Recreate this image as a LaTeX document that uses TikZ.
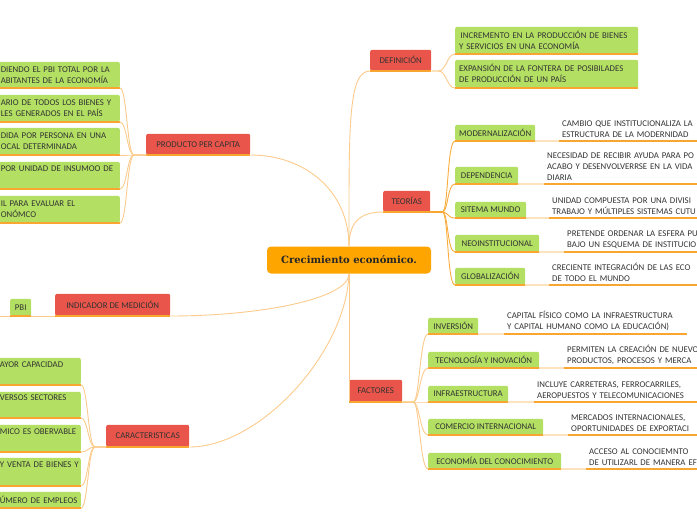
\documentclass[tikz,border=0pt]{standalone}
\usepackage{fontspec}
\setmainfont{Carlito}
\newfontfamily\titlefont{DejaVu Serif}
\definecolor{ink}{HTML}{333333}
\definecolor{nodered}{HTML}{E9554A}
\definecolor{nodegreen}{HTML}{B3E063}
\definecolor{mainorange}{HTML}{FFA500}
\definecolor{ulcol}{HTML}{F8A631}
\definecolor{faintcol}{HTML}{FCE3BE}
\definecolor{conncol}{HTML}{FCCB8C}
\definecolor{conndark}{HTML}{F9AC3C}
\begin{document}
\begin{tikzpicture}[x=1pt,y=-1pt,
  txt/.style={text=ink, font=\fontsize{8.8}{11}\selectfont},
  redbox/.style={txt, fill=nodered, rounded corners=2, inner sep=0, anchor=south west},
  lbl/.style={txt, fill=nodegreen, rounded corners=2, inner sep=0, anchor=south west},
  gbox/.style={txt, fill=nodegreen, rounded corners=2, inner xsep=4, inner ysep=0, align=left, anchor=south west},
  lbox/.style={txt, fill=nodegreen, rounded corners=2, inner xsep=2, inner ysep=0, align=left, anchor=south east, text width=117},
  desc/.style={txt, inner xsep=3, inner ysep=3.5, align=left, anchor=south west, text width=200},
  uline/.style={draw=ulcol, line width=1.8},
  faint/.style={draw=faintcol, line width=1.8},
  conn/.style={draw=conncol, line width=0.9},
  connd/.style={draw=conndark, line width=0.9}
]
\useasboundingbox (0,0) rectangle (697,520);
\clip (0,0) rectangle (697,520);

% central node
\node[fill=mainorange, rounded corners=4, minimum width=164, minimum height=27, inner sep=0,
      text=black!85, font=\titlefont\bfseries\fontsize{10}{12}\selectfont] (c) at (349,260) {Crecimiento económico.};

% main branches
\node[redbox, minimum width=61, minimum height=21] (def) at (370,71) {DEFINICIÓN};
\node[redbox, minimum width=47, minimum height=21] (teo) at (383,212) {TEORÍAS};
\node[redbox, minimum width=53, minimum height=22] (fac) at (349,402) {FACTORES};
\node[redbox, minimum width=104, minimum height=21] (ppc) at (146,155) {PRODUCTO PER CAPITA};
\node[redbox, minimum width=115, minimum height=22] (ind) at (55,316) {INDICADOR DE MEDICIÓN};
\node[redbox, minimum width=83, minimum height=22] (car) at (106,447) {CARACTERISTICAS};

% definicion children
\node[gbox, minimum width=183, minimum height=27, text width=175] (d1) at (455,54)
  {\,INCREMENTO EN LA PRODUCCIÓN DE BIENES\\Y SERVICIOS EN UNA ECONOMÍA};
\node[gbox, minimum width=183, minimum height=28, text width=175] (d2) at (455,88)
  {EXPANSIÓN DE LA FONTERA DE POSIBILADES\\DE PRODUCCIÓN DE UN PAÍS};

% teorias children
\node[lbl, minimum width=80, minimum height=16] (t1) at (455,141) {MODERNALIZACIÓN};
\node[lbl, minimum width=63, minimum height=17] (t2) at (455,184) {DEPENDENCIA};
\node[lbl, minimum width=71, minimum height=16] (t3) at (455,218) {SITEMA MUNDO};
\node[lbl, minimum width=84, minimum height=17] (t4) at (455,252) {NEOINSTITUCIONAL};
\node[lbl, minimum width=70, minimum height=17] (t5) at (455,285) {GLOBALIZACIÓN};

\node[desc] (e1) at (559,141) {CAMBIO QUE INSTITUCIONALIZA LA\\ESTRUCTURA DE LA MODERNIDAD};
\node[desc] (e2) at (544,184) {NECESIDAD DE RECIBIR AYUDA PARA PO\\ACABO Y DESENVOLVERRSE EN LA VIDA\\DIARIA};
\node[desc] (e3) at (549,218) {UNIDAD COMPUESTA POR UNA DIVISI\\TRABAJO Y MÚLTIPLES SISTEMAS CUTU};
\node[desc] (e4) at (564,252) {PRETENDE ORDENAR LA ESFERA PU\\BAJO UN ESQUEMA DE INSTITUCIO};
\node[desc] (e5) at (549,285) {CRECIENTE INTEGRACIÓN DE LAS ECO\\DE TODO EL MUNDO};

% factores children
\node[lbl, minimum width=50, minimum height=16] (g1) at (428,334) {INVERSIÓN};
\node[lbl, minimum width=111, minimum height=16] (g2) at (428,368) {TECNOLOGÍA Y INOVACIÓN};
\node[lbl, minimum width=80, minimum height=16] (g3) at (428,402) {INFRAESTRUCTURA};
\node[lbl, minimum width=115, minimum height=16] (g4) at (428,435) {COMERCIO INTERNACIONAL};
\node[lbl, minimum width=133, minimum height=16] (g5) at (428,469) {ECONOMÍA DEL CONOCIMIENTO};

\node[desc, text width=177] (f1) at (504,334) {CAPITAL FÍSICO COMO LA INFRAESTRUCTURA\\Y CAPITAL HUMANO COMO LA EDUCACIÓN)};
\node[desc] (f2) at (564,368) {PERMITEN LA CREACIÓN DE NUEVO\\PRODUCTOS, PROCESOS Y MERCA};
\node[desc] (f3) at (534,402) {INCLUYE CARRETERAS, FERROCARRILES,\\AEROPUESTOS Y TELECOMUNICACIONES};
\node[desc] (f4) at (568,435) {MERCADOS INTERNACIONALES,\\OPORTUNIDADES DE EXPORTACI};
\node[desc] (f5) at (586,469) {ACCESO AL CONOCIEMNTO\\DE UTILIZARL DE MANERA EF};

% producto per capita children
\node[lbox, minimum height=26] (p1) at (120,88) {DIENDO EL PBI TOTAL POR LA\\ABITANTES DE LA ECONOMÍA};
\node[lbox, minimum height=27] (p2) at (120,122) {ARIO DE TODOS LOS BIENES Y\\LES GENERADOS EN EL PAÍS};
\node[lbox, minimum height=27] (p3) at (120,155) {DIDA POR PERSONA EN UNA\\OCAL DETERMINADA};
\node[lbox, minimum height=27] (p4) at (120,189) {POR UNIDAD DE INSUMOO DE\\\strut};
\node[lbox, minimum height=27] (p5) at (120,223) {IL PARA EVALUAR EL\\ONÓMCO};

% indicador child
\node[lbl, minimum width=21, minimum height=17] (pbi) at (10,316) {PBI};
\coordinate (pbiend) at (-5,316);

% caracteristicas children
\node[lbox, minimum height=27, text width=79] (c1) at (81,385) {AYOR CAPACIDAD\\\strut};
\node[lbox, minimum height=26, text width=79] (c2) at (81,418) {VERSOS SECTORES\\\strut};
\node[lbox, minimum height=27, text width=79] (c3) at (81,452) {MICO ES OBERVABLE\\\strut};
\node[lbox, minimum height=28, text width=79] (c4) at (81,486) {Y VENTA DE BIENES Y\\\strut};
\node[lbox, minimum height=16, text width=79] (c5) at (81,508) {ÚMERO DE EMPLEOS};

% main connectors
\draw[conn] (c.north) .. controls +(0,-120) and +(-22,0) .. (def.south west);
\draw[conn] (c.north) .. controls +(0,-25) and +(-22,0) .. (teo.south west);
\draw[conn] (c.north) .. controls +(0,-55) and +(55,0) .. (ppc.south east);
\draw[conn] (c.south) .. controls +(0,25) and +(90,0) .. (ind.south east);
\draw[conn] (c.south) .. controls +(-3,80) and +(70,0) .. (car.south east);
\draw[conn] (c.south) -- (fac.south west);

% definicion hub
\draw[uline] (def.south west) -- (def.south east);
\foreach \n in {d1,d2}
  \draw[conn] (def.south east) -- ++(7,0) .. controls +(8,0) and +(-8,0) .. (\n.south west);
\foreach \n in {d1,d2} \draw[uline] (\n.south west) -- (\n.south east);

% teorias hub
\draw[uline] (teo.south west) -- (teo.south east) -- ++(12,0);
\foreach \n in {t1,t2,t3,t4,t5}
  \draw[connd] (teo.south east) ++(12,0) .. controls +(6,0) and +(-8,0) .. (\n.south west);
\foreach \a/\b in {t1/e1,t2/e2,t3/e3,t4/e4,t5/e5}{
  \draw[faint] (\a.south east) -- (\b.south west);
  \draw[uline] (\a.south west) -- (\a.south east);
  \draw[uline] (\b.south west) -- (\b.south east);
}

% factores hub
\draw[uline] (fac.south west) -- (fac.south east);
\foreach \n in {g1,g2,g3,g4,g5}
  \draw[conn] (fac.south east) -- ++(11,0) .. controls +(6,0) and +(-8,0) .. (\n.south west);
\foreach \a/\b in {g1/f1,g2/f2,g3/f3,g4/f4,g5/f5}{
  \draw[faint] (\a.south east) -- (\b.south west);
  \draw[uline] (\a.south west) -- (\a.south east);
  \draw[uline] (\b.south west) -- (\b.south east);
}

% producto per capita hub
\draw[uline] (ppc.south west) -- (ppc.south east);
\foreach \n in {p1,p2,p3,p4,p5}
  \draw[conn] (ppc.south west) -- ++(-12,0) .. controls +(-7,0) and +(7,0) .. (\n.south east);
\foreach \n in {p1,p2,p3,p4,p5} \draw[uline] (\n.south west) -- (\n.south east);

% indicador
\draw[uline] (ind.south west) -- (ind.south east);
\draw[conn] (ind.south west) -- (pbi.south east);
\draw[uline] (pbi.south west) -- (pbi.south east);
\draw[conn] (pbi.south west) -- (pbiend);

% caracteristicas hub
\draw[uline] (car.south west) -- (car.south east);
\foreach \n in {c1,c2,c3,c4,c5}
  \draw[conn] (car.south west) -- ++(-11,0) .. controls +(-7,0) and +(7,0) .. (\n.south east);
\foreach \n in {c1,c2,c3,c4,c5} \draw[uline] (\n.south west) -- (\n.south east);
\end{tikzpicture}
\end{document}
